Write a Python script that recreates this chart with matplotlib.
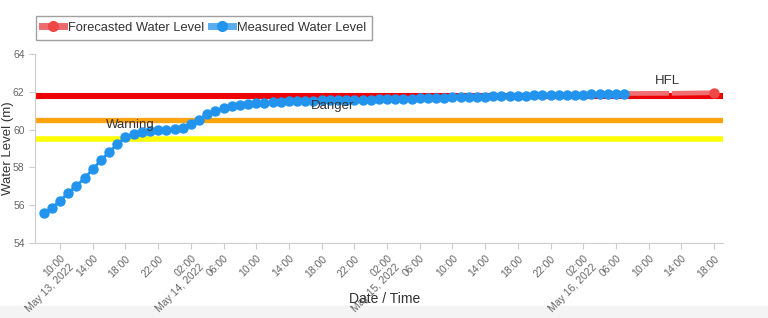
"""Water level chart: measured vs forecast with warning / danger / HFL levels."""

import matplotlib
matplotlib.use("Agg")
import matplotlib.pyplot as plt
from matplotlib.lines import Line2D
from matplotlib.patches import Rectangle
import pandas as pd

plt.rcParams["font.family"] = ["Liberation Sans", "DejaVu Sans"]

# hourly measured levels, May 13 08:00 -> May 16 07:00
measured_start = "2022-05-13 08:00"
measured_level = [
    55.58, 55.85, 56.24, 56.64, 57.03, 57.43, 57.91, 58.37, 58.81, 59.23,
    59.60, 59.76, 59.86, 59.95, 59.99, 59.99, 60.02, 60.11, 60.29, 60.53,
    60.83, 61.01, 61.13, 61.24, 61.29, 61.36, 61.39, 61.43, 61.46, 61.48,
    61.50, 61.51, 61.52, 61.53, 61.54, 61.55, 61.56, 61.57, 61.57, 61.58,
    61.59, 61.60, 61.61, 61.62, 61.63, 61.64, 61.65, 61.66, 61.67, 61.68,
    61.70, 61.71, 61.73, 61.74, 61.75, 61.76, 61.77, 61.78, 61.79, 61.80,
    61.81, 61.82, 61.82, 61.83, 61.84, 61.85, 61.85, 61.86, 61.86, 61.87,
    61.87, 61.88,
]

forecast_time = ["2022-05-16 07:00", "2022-05-16 12:30", "2022-05-16 18:00"]
forecast_level = [61.91, 61.92, 61.95]

warning_level = 59.5
danger_level = 60.5
hfl_level = 61.8

tick_start = "2022-05-13 10:00"
tick_end = "2022-05-16 18:00"

measured_time = pd.date_range(measured_start, periods=len(measured_level), freq="h")
forecast_time = pd.to_datetime(forecast_time)
ticks = pd.date_range(tick_start, tick_end, freq="4h")
tick_labels = []
for i, t in enumerate(ticks):
    lab = t.strftime("%H:%M")
    if i == 0 or t.hour == 2:
        lab += "\n" + t.strftime("%b %-d, %Y")
    tick_labels.append(lab)

fig = plt.figure(figsize=(7.68, 3.18), dpi=100)
fig.patches.append(Rectangle((0, 0), 1, 12 / 318, transform=fig.transFigure,
                             color="#f4f4f4", zorder=-1))
ax = fig.add_axes([35 / 768, 1 - 243 / 318, 688 / 768, 189 / 318])

ax.axhline(warning_level, color="#ffff00", lw=4.0, zorder=1)
ax.axhline(danger_level, color="#ffa30f", lw=3.8, zorder=1)
ax.axhline(hfl_level, color="#ee0000", lw=4.4, zorder=1)

# forecast drawn as two pieces with a small break, like the reference
ax.plot(forecast_time[:2], forecast_level[:2], color="#ef7072", lw=3.4,
        zorder=2, solid_capstyle="butt")
ax.plot([forecast_time[1] + pd.Timedelta("20min"), forecast_time[2]], forecast_level[1:],
        color="#ef7072", lw=3.4, zorder=2, solid_capstyle="butt")
ax.plot(forecast_time[-1:], forecast_level[-1:], "o", color="#ef4748", ms=6.5, zorder=3)
ax.plot(measured_time, measured_level, "-o", color="#2394ee", lw=2, ms=6.5, zorder=4)

ax.text(pd.Timestamp("2022-05-13 18:34"), 60.24, "Warning", ha="center", va="center",
        fontsize=9.5, color="#333333", zorder=6)
ax.text(pd.Timestamp("2022-05-14 19:18"), 61.25, "Danger", ha="center", va="center",
        fontsize=9.5, color="#333333", zorder=6)
ax.text(pd.Timestamp("2022-05-16 12:18"), 62.57, "HFL", ha="center", va="center",
        fontsize=9.5, color="#333333", zorder=6)

ax.set_xlim(pd.Timestamp("2022-05-13 06:56"), pd.Timestamp("2022-05-16 19:06"))
ax.set_ylim(54, 64)
ax.set_yticks([54, 56, 58, 60, 62, 64])
ax.set_xticks(ticks)
ax.set_xticklabels(tick_labels, rotation=45, ha="right", rotation_mode="anchor")
ax.tick_params(colors="#cccccc", labelcolor="#666666", labelsize=7.5, length=4)
for s in ("top", "right"):
    ax.spines[s].set_visible(False)
for s in ("left", "bottom"):
    ax.spines[s].set_color("#cccccc")

ax.set_ylabel("Water Level (m)", fontsize=9.5, color="#333333")
ax.yaxis.set_label_coords(-21 / 688, 0.5)
fig.text(385 / 768, 1 - 299 / 318, "Date / Time", ha="center", va="center",
         fontsize=10, color="#333333")

handles = [
    Line2D([], [], color="#ee6a6c", lw=5, marker="o", ms=7, mfc="#ef4748", mec="#ef4748"),
    Line2D([], [], color="#5aaef0", lw=5, marker="o", ms=7, mfc="#2394ee", mec="#2394ee"),
]
leg = fig.legend(handles, ["Forecasted Water Level", "Measured Water Level"],
                 loc="upper left", bbox_to_anchor=(36 / 768, 1 - 16 / 318), ncol=2,
                 fontsize=9.3, frameon=True, fancybox=False, borderaxespad=0,
                 handlelength=1.7, handletextpad=0.35, columnspacing=0.5,
                 borderpad=0.45)
leg.get_frame().set_edgecolor("#888888")
leg.get_frame().set_linewidth(1.0)
for t in leg.get_texts():
    t.set_color("#333333")

fig.savefig("out.png", dpi=100)
